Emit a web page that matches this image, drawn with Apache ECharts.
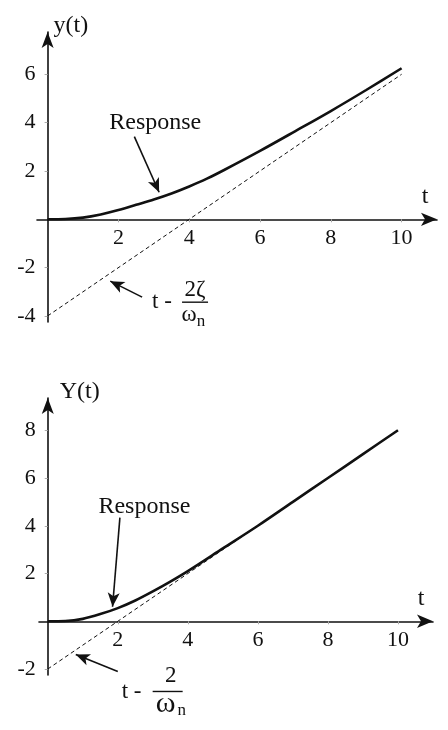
<!DOCTYPE html>
<html>
<head>
<meta charset="utf-8">
<script src="https://cdn.jsdelivr.net/npm/echarts@6/dist/echarts.min.js"></script>
<style>
  html, body { margin: 0; padding: 0; background: #fff; }
  #main { width: 448px; height: 730px; }
</style>
</head>
<body>
<div id="main"></div>
<script>
// top panel: y(t), asymptote t - 2zeta/wn
var topTime = [0, 0.5, 1, 1.5, 2, 2.5, 3, 3.5, 4, 4.5, 5, 6, 7, 8, 9, 10];
var topResponse = [0, 0.01, 0.07, 0.2, 0.38, 0.6, 0.82, 1.07, 1.36, 1.68, 2.05, 2.83, 3.65, 4.48, 5.35, 6.25];
var topAsymptote = [[0, -4], [10, 6]];
var topXTicks = [2, 4, 6, 8, 10];
var topYTicks = [-4, -2, 2, 4, 6];

// bottom panel: Y(t), asymptote t - 2/wn
var bottomTime = [0, 0.5, 1, 1.5, 2, 2.5, 3, 3.5, 4, 5, 6, 7, 8, 9, 10];
var bottomResponse = [0, 0.01, 0.1, 0.3, 0.55, 0.87, 1.25, 1.66, 2.1, 3.05, 4, 5, 6, 7, 8];
var bottomAsymptote = [[0, -2], [10, 8]];
var bottomXTicks = [2, 4, 6, 8, 10];
var bottomYTicks = [-2, 2, 4, 6, 8];

var INK = '#111';
var SERIF = '"Liberation Serif", "DejaVu Serif", serif';

function pairs(xs, ys) {
  return xs.map(function (x, i) { return [x, ys[i]]; });
}

function makeX(grid, min, max, ticks) {
  return {
    type: 'value', gridIndex: grid, min: min, max: max,
    axisLine: {
      onZero: true, symbol: ['none', 'arrow'], symbolSize: [10, 16], symbolOffset: [0, 0],
      lineStyle: { color: INK, width: 1.6 }
    },
    axisTick: { show: true, customValues: ticks, length: 3, lineStyle: { color: '#aaa', width: 1 } },
    axisLabel: { customValues: ticks, margin: 8, color: INK, fontFamily: SERIF, fontSize: 22 },
    splitLine: { show: false },
    name: 't', nameLocation: 'end', nameGap: -12,
    nameTextStyle: { color: INK, fontFamily: SERIF, fontSize: 24, align: 'center', verticalAlign: 'bottom', padding: [0, 0, 11, 0] }
  };
}

function makeY(grid, min, max, ticks, title, pad) {
  return {
    type: 'value', gridIndex: grid, min: min, max: max,
    axisLine: {
      onZero: true, symbol: ['none', 'arrow'], symbolSize: [9, 16], symbolOffset: [0, 0],
      lineStyle: { color: INK, width: 1.6 }
    },
    axisTick: { show: true, customValues: ticks, length: 3, lineStyle: { color: '#aaa', width: 1 } },
    axisLabel: { customValues: ticks, margin: 12, color: INK, fontFamily: SERIF, fontSize: 22 },
    splitLine: { show: false },
    name: title, nameLocation: 'end', nameGap: -6,
    nameTextStyle: { color: INK, fontFamily: SERIF, fontSize: 24, align: 'left', verticalAlign: 'bottom', padding: [0, 0, 0, pad] }
  };
}

function arrowMark(from, to) {
  return {
    silent: true, symbol: ['none', 'arrow'], symbolSize: [9, 14],
    lineStyle: { color: INK, width: 1.6, type: 'solid' },
    label: { show: false },
    data: [[{ coord: from }, { coord: to }]]
  };
}

var chart = echarts.init(document.getElementById('main'));

var xRange = [[-0.3, 11], [-0.25, 11]];
var yRange = [[-4.25, 7.75], [-2.25, 9.35]];

var option = {
  animation: false,
  backgroundColor: '#fff',
  grid: [
    { left: 37, top: 32, width: 400, height: 290 },
    { left: 39, top: 398, width: 394, height: 277 }
  ],
  xAxis: [
    makeX(0, xRange[0][0], xRange[0][1], topXTicks),
    makeX(1, xRange[1][0], xRange[1][1], bottomXTicks)
  ],
  yAxis: [
    makeY(0, yRange[0][0], yRange[0][1], topYTicks, 'y(t)', 6),
    makeY(1, yRange[1][0], yRange[1][1], bottomYTicks, 'Y(t)', 12)
  ],
  series: [
    {
      name: 'Response', type: 'line', xAxisIndex: 0, yAxisIndex: 0, smooth: 0.3,
      showSymbol: false, data: pairs(topTime, topResponse),
      lineStyle: { color: INK, width: 2.6 },
      markLine: arrowMark([2.45, 3.42], [3.15, 1.12])
    },
    {
      name: 'asymptote', type: 'line', xAxisIndex: 0, yAxisIndex: 0,
      showSymbol: false, data: topAsymptote,
      lineStyle: { color: INK, width: 1, type: [4, 3] },
      markLine: arrowMark([2.67, -3.22], [1.77, -2.56])
    },
    {
      name: 'Response', type: 'line', xAxisIndex: 1, yAxisIndex: 1, smooth: 0.3,
      showSymbol: false, data: pairs(bottomTime, bottomResponse),
      lineStyle: { color: INK, width: 2.6 },
      markLine: arrowMark([2.06, 4.34], [1.85, 0.61])
    },
    {
      name: 'asymptote', type: 'line', xAxisIndex: 1, yAxisIndex: 1,
      showSymbol: false, data: bottomAsymptote,
      lineStyle: { color: INK, width: 1, type: [4, 3] },
      markLine: arrowMark([2.0, -2.1], [0.8, -1.39])
    }
  ]
};
chart.setOption(option);

function px(grid, pt) {
  return chart.convertToPixel({ gridIndex: grid }, pt);
}

// tick labels stay at the grid edge, so pull them back onto the zero lines
var xFix = [], yFix = [];
[0, 1].forEach(function (g) {
  var zero = px(g, [0, 0]);
  var bottom = px(g, [0, yRange[g][0]])[1];
  var left = px(g, [xRange[g][0], 0])[0];
  xFix.push({ axisLabel: { margin: 8 - (bottom - zero[1]) } });
  yFix.push({ axisLabel: { margin: 12 - (zero[0] - left) } });
});

function txt(x, y, s, size, align) {
  return {
    type: 'text', x: x, y: y, silent: true,
    style: { text: s, fill: INK, font: size + 'px ' + SERIF, align: align || 'center', verticalAlign: 'middle' }
  };
}

// fraction label "t - num / wn": f holds pixel offsets from the anchor
function fraction(grid, anchor, num, f) {
  var p = px(grid, anchor);
  var x = p[0], y = p[1];
  return [
    txt(x, y, 't -', 23, 'left'),
    txt(x + f.numX, y + f.numY, num, 23),
    { type: 'line', silent: true, shape: { x1: x + f.barL, y1: y, x2: x + f.barR, y2: y }, style: { stroke: INK, lineWidth: 1.4 } },
    txt(x + f.wX, y + f.wY, 'ω', f.wSize),
    txt(x + f.nX, y + f.nY, 'n', 17)
  ];
}

var topWord = px(0, [3.04, 4.0]);
var bottomWord = px(1, [2.76, 4.8]);

chart.setOption({
  xAxis: xFix,
  yAxis: yFix,
  graphic: [
    txt(topWord[0], topWord[1], 'Response', 24),
    txt(bottomWord[0], bottomWord[1], 'Response', 24)
  ].concat(
    fraction(0, [2.95, -3.43], '2ζ', { numX: 43, numY: -12, barL: 30, barR: 56, wX: 37, wY: 13, wSize: 23, nX: 49, nY: 19 }),
    fraction(1, [2.11, -2.94], '2', { numX: 49, numY: -16, barL: 31, barR: 61, wX: 44, wY: 13, wSize: 30, nX: 60, nY: 19 })
  )
});
</script>
</body>
</html>
